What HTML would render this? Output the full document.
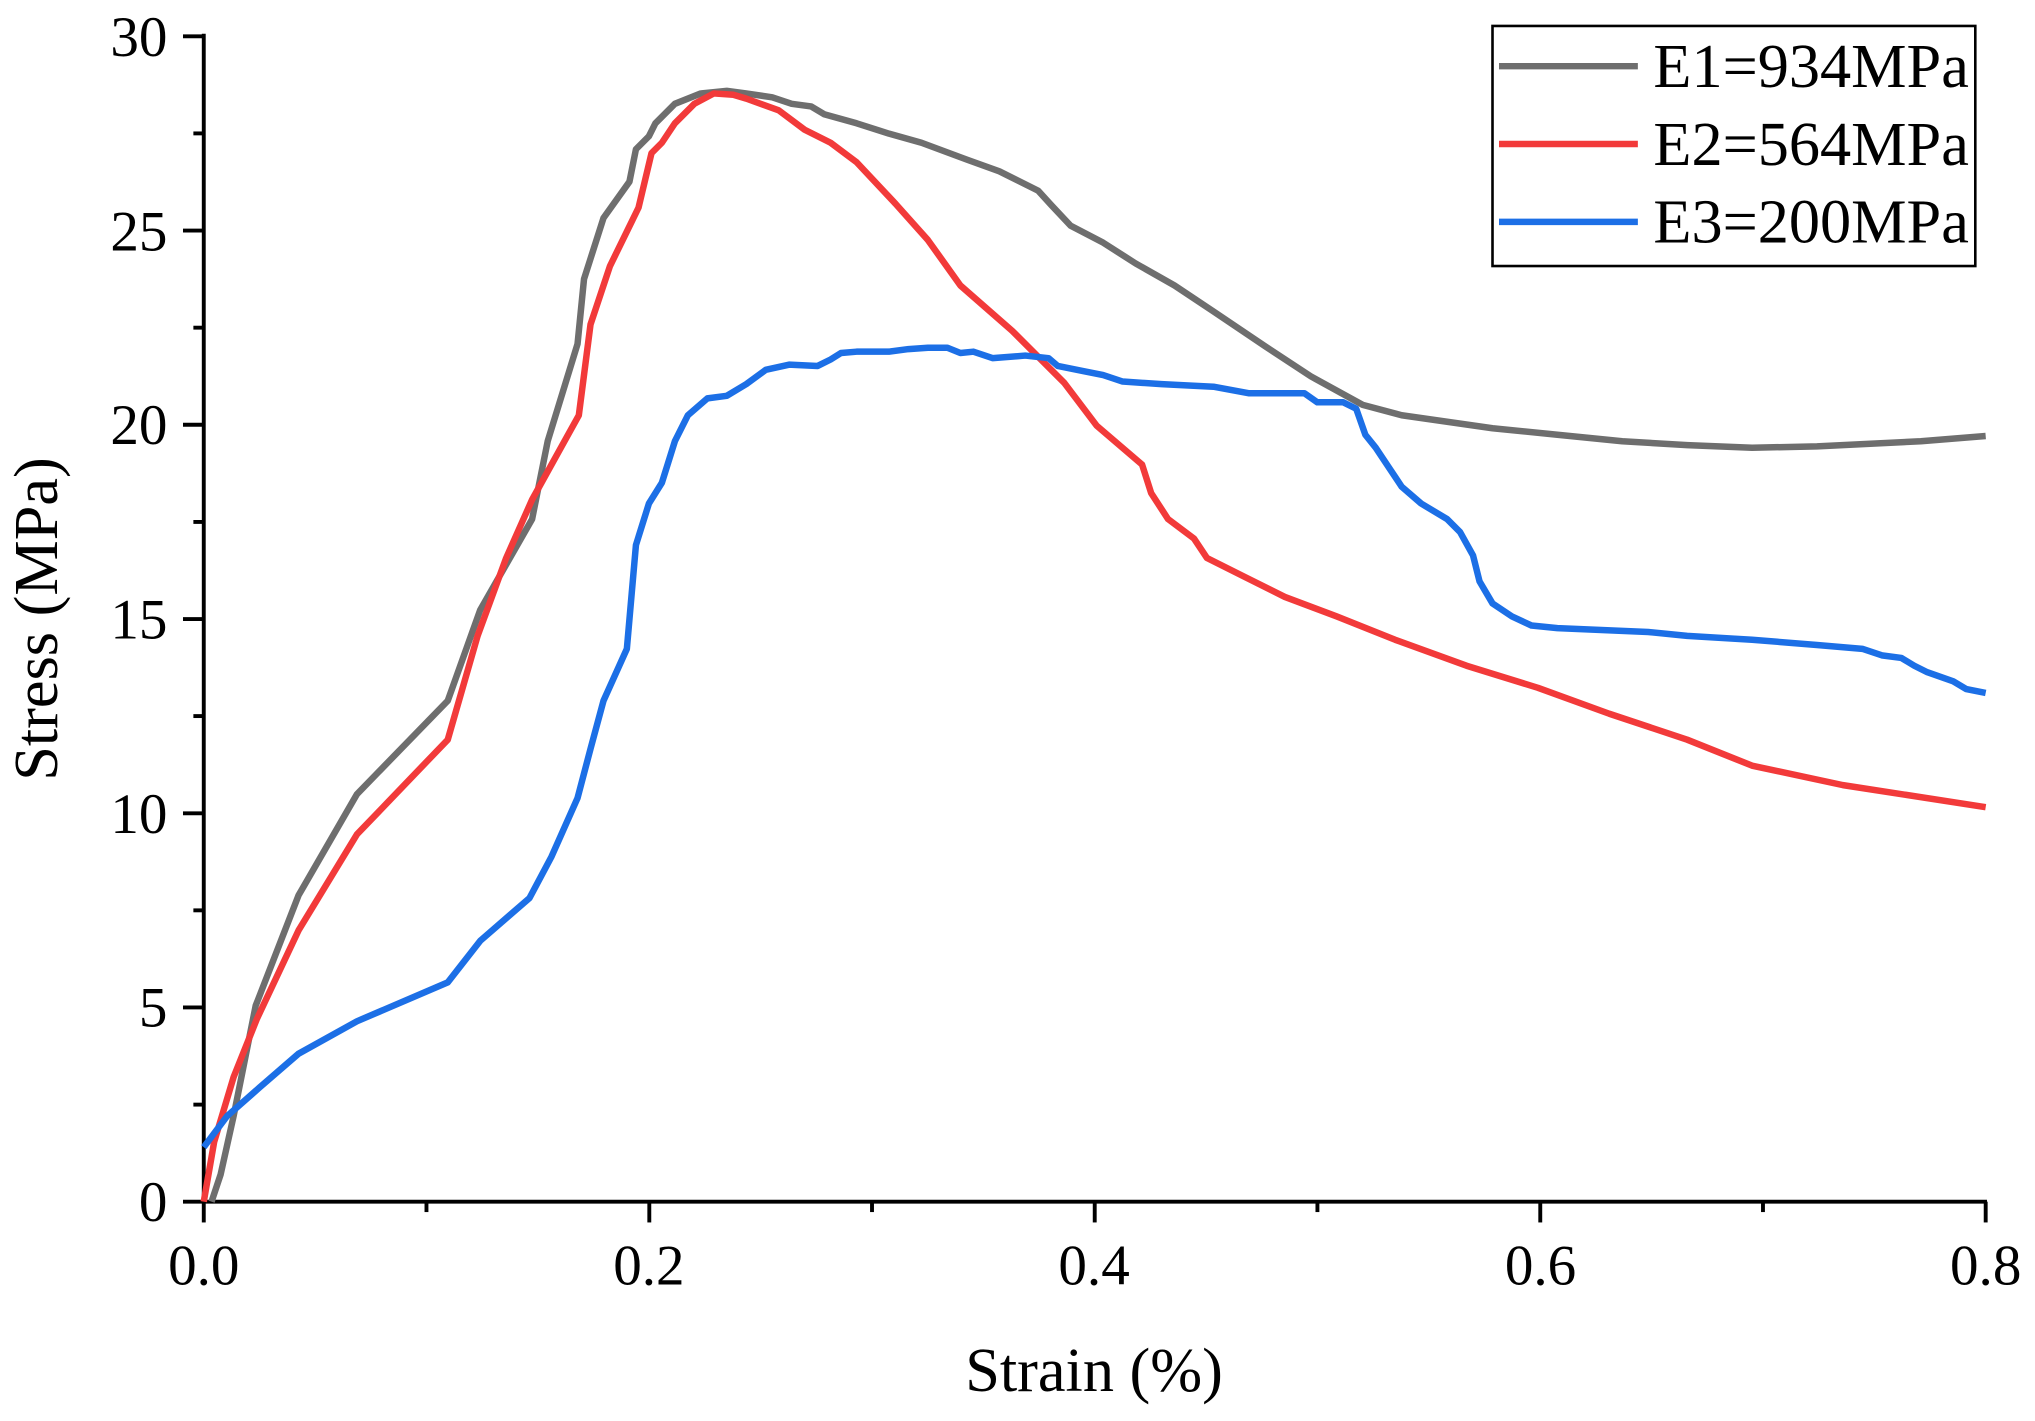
<!DOCTYPE html>
<html><head><meta charset="utf-8"><style>
html,body{margin:0;padding:0;background:#fff;}
svg{display:block;}
text{font-family:"Liberation Serif",serif;fill:#000;}
</style></head><body>
<svg width="2035" height="1421" viewBox="0 0 1568 1095" preserveAspectRatio="none" xmlns="http://www.w3.org/2000/svg">
<rect width="1568" height="1095" fill="#fff"/>
<g stroke="#000" stroke-width="3" fill="none">
<line x1="157" y1="26" x2="157" y2="927"/>
<line x1="156" y1="926" x2="1531" y2="926"/>
<line x1="141" y1="926" x2="157" y2="926"/>
<line x1="141" y1="776.3" x2="157" y2="776.3"/>
<line x1="141" y1="626.7" x2="157" y2="626.7"/>
<line x1="141" y1="477" x2="157" y2="477"/>
<line x1="141" y1="327.3" x2="157" y2="327.3"/>
<line x1="141" y1="177.7" x2="157" y2="177.7"/>
<line x1="141" y1="28" x2="157" y2="28"/>
<line x1="149" y1="851.2" x2="157" y2="851.2"/>
<line x1="149" y1="701.5" x2="157" y2="701.5"/>
<line x1="149" y1="551.8" x2="157" y2="551.8"/>
<line x1="149" y1="402.2" x2="157" y2="402.2"/>
<line x1="149" y1="252.5" x2="157" y2="252.5"/>
<line x1="149" y1="102.8" x2="157" y2="102.8"/>
<line x1="157" y1="926" x2="157" y2="942"/>
<line x1="500.3" y1="926" x2="500.3" y2="942"/>
<line x1="843.5" y1="926" x2="843.5" y2="942"/>
<line x1="1186.8" y1="926" x2="1186.8" y2="942"/>
<line x1="1530" y1="926" x2="1530" y2="942"/>
<line x1="328.6" y1="926" x2="328.6" y2="934"/>
<line x1="671.9" y1="926" x2="671.9" y2="934"/>
<line x1="1015.1" y1="926" x2="1015.1" y2="934"/>
<line x1="1358.4" y1="926" x2="1358.4" y2="934"/>
</g>
<g font-size="44" text-anchor="end">
<text x="129" y="941">0</text>
<text x="129" y="791">5</text>
<text x="129" y="642">10</text>
<text x="129" y="492">15</text>
<text x="129" y="342">20</text>
<text x="129" y="193">25</text>
<text x="129" y="43">30</text>
</g>
<g font-size="44" text-anchor="middle">
<text x="157" y="990">0.0</text>
<text x="500" y="990">0.2</text>
<text x="843" y="990">0.4</text>
<text x="1187" y="990">0.6</text>
<text x="1530" y="990">0.8</text>
<text x="843" y="1072" font-size="48">Strain (%)</text>
</g>
<text x="0" y="0" font-size="48" text-anchor="middle" transform="translate(44,477) rotate(-90)">Stress (MPa)</text>
<g fill="none" stroke-width="5" stroke-linejoin="round">
<polyline stroke="#6e6e6e" points="163,926 170,905 180,860 197,775 230,690 275,612 345,540 370,470 410,400 422,340 445,265 450,215 465,168 485,140 490,115 500,105 505,95 520,80 540,72 560,70 575,72 595,75 610,80 625,82 635,88 660,95 685,103 710,110 745,123 770,132 800,147 810,158 825,174 850,187 875,203 905,220 935,240 975,267 1010,290 1050,312 1080,320 1150,330 1200,335 1250,340 1300,343 1350,345 1400,344 1480,340 1530,336"/>
<polyline stroke="#f23a3a" points="157,926 165,880 180,830 198,785 230,717 275,643 345,570 368,490 390,430 410,385 446,320 455,250 470,205 492,160 502,118 510,110 520,95 535,80 550,72 565,73 575,76 600,85 620,100 640,110 660,125 690,157 715,185 740,220 780,255 820,295 845,328 880,358 887,380 900,400 920,415 930,430 960,445 990,460 1030,475 1075,493 1130,513 1185,530 1240,550 1300,570 1350,590 1420,605 1530,622"/>
<polyline stroke="#1c6fe6" points="157,884 175,860 200,838 230,812 275,787 345,757 370,725 408,692 425,660 445,615 455,577 465,540 483,500 490,420 500,388 510,372 520,340 530,320 545,307 560,305 575,296 590,285 608,281 630,282 640,277 648,272 660,271 685,271 700,269 715,268 730,268 740,272 750,271 765,276 790,274 808,276 815,282 835,286 850,289 865,294 895,296 935,298 962,303 990,303 1005,303 1015,310 1035,310 1045,315 1052,335 1060,345 1070,360 1080,375 1095,388 1115,400 1125,410 1135,428 1140,448 1150,465 1165,475 1180,482 1200,484 1270,487 1300,490 1350,493 1400,497 1435,500 1450,505 1465,507 1475,513 1485,518 1505,525 1515,531 1530,534"/>
</g>
<rect x="1150" y="20" width="372" height="185" fill="#fff" stroke="#000" stroke-width="2"/>
<g stroke-width="5">
<line x1="1155" y1="51" x2="1262" y2="51" stroke="#6e6e6e"/>
<line x1="1155" y1="111" x2="1262" y2="111" stroke="#f23a3a"/>
<line x1="1155" y1="171" x2="1262" y2="171" stroke="#1c6fe6"/>
</g>
<g font-size="48">
<text x="1274" y="67">E1=934MPa</text>
<text x="1274" y="127">E2=564MPa</text>
<text x="1274" y="187">E3=200MPa</text>
</g>
</svg>
</body></html>
